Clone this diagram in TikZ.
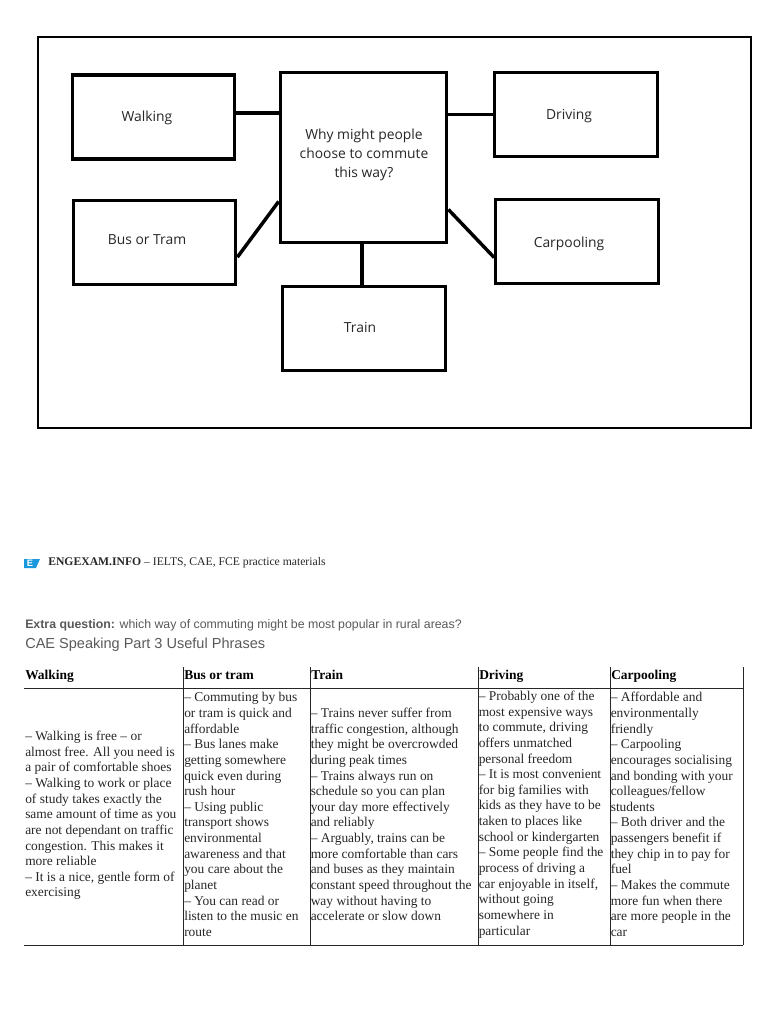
\documentclass[tikz,border=0pt]{standalone}
\usepackage{fontspec}
\usepackage{tikz}
\usepackage{xcolor}
\setmainfont{Liberation Serif}
\setsansfont{Liberation Sans}
\newfontfamily\boxfont{Open Sans}
\usetikzlibrary{arrows.meta, positioning, fit}

\begin{document}
\begin{tikzpicture}[
  x=0.75pt, y=-0.75pt,
  mapbox/.style={draw, line width=2.3pt, minimum width=122pt, minimum height=63pt, inner sep=0pt},
  boxlabel/.style={inner sep=0pt, align=center, text=black!85, font=\boxfont\fontsize{10.4}{14.3}\selectfont},
  link/.style={line width=2.6pt},
  rule/.style={line width=0.7pt, black!85},
  head/.style={anchor=base west, inner sep=0pt, font=\bfseries\fontsize{10.1}{11.7}\selectfont},
  cell/.style={anchor=west, inner sep=0pt, align=left, font=\fontsize{10.08}{11.72}\selectfont, text=black!85},
  greytext/.style={anchor=west, inner sep=0pt, text=black!65, font=\sffamily\fontsize{9.25}{11}\selectfont}
]
\useasboundingbox (0,0) rectangle (768,1024);
\draw[line width=2pt] (38,37) rectangle (751,428);

\node[mapbox, minimum width=125pt, minimum height=127pt] (hub) at (363.5,157.5) {};
\foreach \i/\x/\y/\lx/\ly/\txt in {walking/153.5/117/147/118/{Walking},driving/576/114.5/569/116/{Driving},bus/154.5/242.5/147/240/{Bus or Tram},carpooling/577/241.5/569/244/{Carpooling},train/364/328.5/360/327/{Train}} {
  \node[mapbox] (\i) at (\x,\y) {};
  \node[boxlabel] (\i label) at (\lx,\ly) {\txt};
}
\node[boxlabel] (hub label) at (364,155) {Why might people\\choose to commute\\this way?};

\draw[link] ([yshift=3pt]walking.east) -- ([yshift=3pt]walking.east -| hub.west);
\draw[link] (driving.west) -- (driving.west -| hub.east);
\draw[link] ([yshift=-11pt]bus.east) -- ([yshift=-33pt]hub.west);
\draw[link] ([yshift=-12pt]carpooling.west) -- ([yshift=-39pt]hub.east);
\draw[link] (train.north -| 362,0) -- (hub.south -| 362,0);

\fill[blue!35!cyan!85!black!90] (24,559) -- (40,559) -- (36,568) -- (24,568) -- cycle;
\node[inner sep=0pt, text=white, font=\sffamily\bfseries\fontsize{7}{7}\selectfont] (icon) at (30,563.5) {E};
\node[anchor=west, inner sep=0pt, text=black!85, font=\fontsize{8.75}{11}\selectfont] (source) at (48,563) {\textbf{ENGEXAM.INFO} -- IELTS, CAE, FCE practice materials};
\node[greytext] (extra) at (25,625) {\textbf{Extra question:} which way of commuting might be most popular in rural areas?};
\node[greytext, font=\sffamily\fontsize{10.9}{13}\selectfont] (phrases) at (25,644.5) {CAE Speaking Part 3 Useful Phrases};

\foreach \x in {183.5,310,478,610,743} {
  \draw[rule] (\x,667) -- (\x,945);
}
\draw[rule] (24,688) -- (743,688);
\draw[rule] (24,945) -- (743,945);

\foreach \i/\x/\txt in {walk/25/{Walking},tram/184/{Bus or tram},rail/311/{Train},car/479/{Driving},pool/611/{Carpooling}} {
  \node[head] (h\i) at (\x,679) {\txt};
}

\node[cell] (cwalk) at (25,815.5) {-- Walking is free -- or\\almost free. All you need is\\a pair of comfortable shoes\\-- Walking to work or place\\of study takes exactly the\\same amount of time as you\\are not dependant on traffic\\congestion. This makes it\\more reliable\\-- It is a nice, gentle form of\\exercising};
\node[cell] (ctram) at (184,814.5) {-- Commuting by bus\\or tram is quick and\\affordable\\-- Bus lanes make\\getting somewhere\\quick even during\\rush hour\\-- Using public\\transport shows\\environmental\\awareness and that\\you care about the\\planet\\-- You can read or\\listen to the music en\\route};
\node[cell] (crail) at (310.5,814.5) {-- Trains never suffer from\\traffic congestion, although\\they might be overcrowded\\during peak times\\-- Trains always run on\\schedule so you can plan\\your day more effectively\\and reliably\\-- Arguably, trains can be\\more comfortable than cars\\and buses as they maintain\\constant speed throughout the\\way without having to\\accelerate or slow down};
\node[cell] (ccar) at (478.5,814.5) {-- Probably one of the\\most expensive ways\\to commute, driving\\offers unmatched\\personal freedom\\-- It is most convenient\\for big families with\\kids as they have to be\\taken to places like\\school or kindergarten\\-- Some people find the\\process of driving a\\car enjoyable in itself,\\without going\\somewhere in\\particular};
\node[cell] (cpool) at (610.5,814.5) {-- Affordable and\\environmentally\\friendly\\-- Carpooling\\encourages socialising\\and bonding with your\\colleagues/fellow\\students\\-- Both driver and the\\passengers benefit if\\they chip in to pay for\\fuel\\-- Makes the commute\\more fun when there\\are more people in the\\car};
\end{tikzpicture}
\end{document}
